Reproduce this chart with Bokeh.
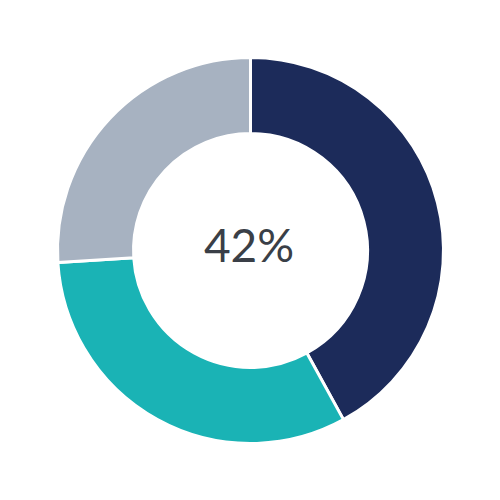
import math
from bokeh.plotting import figure
from bokeh.models import ColumnDataSource, Range1d
from bokeh.core.properties import value
from bokeh.embed import file_html
from bokeh.resources import INLINE

labels = ["Navy", "Teal", "Gray"]
shares = [42, 32, 26]
colors = ["#1c2b5a", "#1ab3b5", "#a7b2c1"]
center_label = "42%"

# angles clockwise from the top
total = sum(shares)
starts, ends = [], []
acc = 0.0
for s in shares:
    a0 = math.pi / 2 - 2 * math.pi * acc / total
    acc += s
    a1 = math.pi / 2 - 2 * math.pi * acc / total
    starts.append(a0)
    ends.append(a1)

source = ColumnDataSource(data=dict(label=labels, share=shares, color=colors,
                                    start=starts, end=ends))

p = figure(width=484, height=484, output_backend="svg", toolbar_location=None,
           x_range=Range1d(-250, 234), y_range=Range1d(-234, 250),
           min_border=0)
p.axis.visible = False
p.grid.grid_line_color = None
p.outline_line_color = None

p.annular_wedge(x=0, y=0, inner_radius=117, outer_radius=193,
                start_angle="start", end_angle="end", direction="clock",
                fill_color="color", line_color="white", line_width=3,
                source=source)

p.text(x=[-1.5], y=[6], text=[center_label], text_align="center",
       text_baseline="middle", text_font=value("Lato"),
       text_font_size="46px", text_color="#3a3f47")

open("out.html", "w").write(file_html(p, INLINE))
